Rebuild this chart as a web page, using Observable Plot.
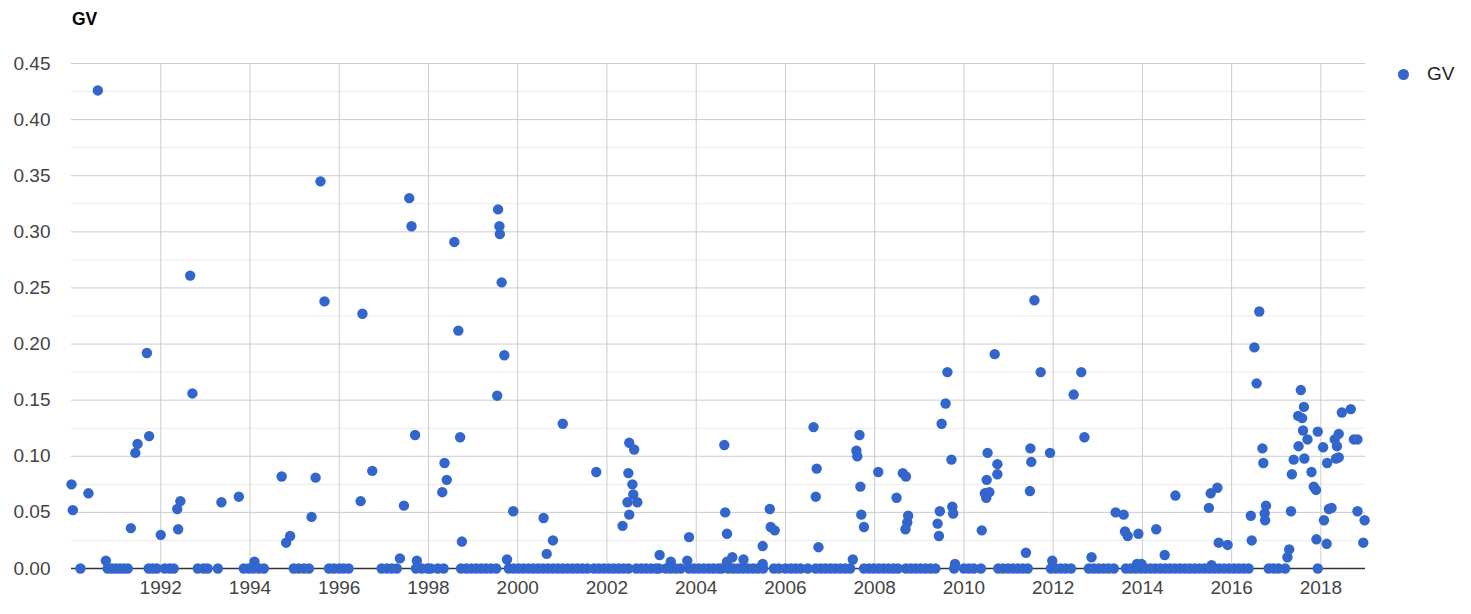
<!DOCTYPE html>
<html>
<head>
<meta charset="utf-8">
<script src="https://cdn.jsdelivr.net/npm/d3@7"></script>
<script src="https://cdn.jsdelivr.net/npm/@observablehq/plot@0.6"></script>
<style>
  html, body { margin: 0; padding: 0; background: #fff; }
  body { width: 1471px; height: 614px; position: relative; overflow: hidden; font-family: Arial, "Liberation Sans", sans-serif; }
  #title { position: absolute; left: 72px; top: 11px; font-size: 17.5px; font-weight: bold; color: #000; line-height: 1; }
  #legend { position: absolute; left: 1398px; top: 63px; font-size: 19px; color: #222; display: flex; align-items: center; line-height: 22px; }
  #legend .dot { width: 11px; height: 11px; border-radius: 50%; background: #3366cc; margin-right: 18px; }
  #chart { position: absolute; left: 0; top: 0; }
</style>
</head>
<body>
<div id="chart"></div>
<div id="title">GV</div>
<div id="legend"><span class="dot"></span><span>GV</span></div>
<script>
const seriesName = "GV";
const years = [
  1990.0,1990.03,1990.38,1990.59,1990.77,1991.33,1991.43,1991.48,1991.69,1991.74,
  1992.0,1992.37,1992.39,1992.44,1992.66,1992.71,1993.36,1993.75,1994.1,1994.71,
  1994.81,1994.9,1995.38,1995.47,1995.58,1995.67,1996.48,1996.52,1996.74,1997.36,
  1997.45,1997.57,1997.62,1997.7,1997.74,1998.31,1998.36,1998.41,1998.58,1998.67,
  1998.71,1998.75,1999.54,1999.56,1999.59,1999.6,1999.64,1999.7,1999.76,1999.9,
  2000.58,2000.65,2000.79,2001.01,2001.76,2002.35,2002.46,2002.48,2002.5,2002.5,
  2002.57,2002.59,2002.61,2002.68,2003.18,2003.43,2003.8,2003.84,2004.63,2004.65,
  2004.69,2004.69,2004.81,2005.06,2005.49,2005.49,2005.65,2005.67,2005.76,2006.63,
  2006.7,2006.68,2006.74,2007.51,2007.59,2007.61,2007.66,2007.68,2007.7,2007.76,
  2008.08,2008.49,2008.63,2008.69,2008.7,2008.73,2008.75,2009.41,2009.44,2009.46,
  2009.5,2009.59,2009.63,2009.72,2009.74,2009.76,2009.8,2010.4,2010.47,2010.5,
  2010.51,2010.53,2010.57,2010.69,2010.75,2010.75,2011.39,2011.48,2011.49,2011.51,
  2011.58,2011.72,2011.93,2011.98,2012.46,2012.63,2012.7,2012.86,2013.4,2013.58,
  2013.61,2013.67,2013.88,2013.91,2013.98,2014.31,2014.5,2014.74,2015.49,2015.53,
  2015.55,2015.68,2015.71,2015.91,2016.43,2016.45,2016.51,2016.56,2016.62,2016.69,
  2016.71,2016.74,2016.75,2016.77,2017.25,2017.29,2017.33,2017.35,2017.39,2017.49,
  2017.5,2017.55,2017.58,2017.6,2017.62,2017.63,2017.7,2017.79,2017.84,2017.89,
  2017.9,2017.93,2018.05,2018.07,2018.13,2018.14,2018.18,2018.24,2018.31,2018.34,
  2018.36,2018.4,2018.4,2018.47,2018.67,2018.74,2018.82,2018.82,2018.95,2018.98
];
const gv = [
  0.075,0.052,0.067,0.426,0.007,0.036,0.103,0.111,0.192,0.118,
  0.030,0.053,0.035,0.060,0.261,0.156,0.059,0.064,0.006,0.082,
  0.023,0.029,0.046,0.081,0.345,0.238,0.060,0.227,0.087,0.009,
  0.056,0.330,0.305,0.119,0.007,0.068,0.094,0.079,0.291,0.212,
  0.117,0.024,0.154,0.320,0.305,0.298,0.255,0.190,0.008,0.051,
  0.045,0.013,0.025,0.129,0.086,0.038,0.059,0.085,0.112,0.048,
  0.075,0.066,0.106,0.059,0.012,0.006,0.007,0.028,0.110,0.050,
  0.031,0.006,0.010,0.008,0.020,0.004,0.053,0.037,0.034,0.126,
  0.089,0.064,0.019,0.008,0.105,0.100,0.119,0.073,0.048,0.037,
  0.086,0.063,0.085,0.035,0.082,0.041,0.047,0.040,0.029,0.051,
  0.129,0.147,0.175,0.097,0.055,0.049,0.004,0.034,0.067,0.063,
  0.079,0.103,0.068,0.191,0.093,0.084,0.014,0.069,0.107,0.095,
  0.239,0.175,0.103,0.007,0.155,0.175,0.117,0.010,0.050,0.048,
  0.033,0.029,0.004,0.031,0.004,0.035,0.012,0.065,0.054,0.067,
  0.003,0.072,0.023,0.021,0.047,0.025,0.197,0.165,0.229,0.107,
  0.094,0.049,0.043,0.056,0.010,0.017,0.051,0.084,0.097,0.136,
  0.109,0.159,0.134,0.123,0.144,0.098,0.115,0.086,0.073,0.070,
  0.026,0.122,0.108,0.043,0.022,0.094,0.053,0.054,0.115,0.098,
  0.109,0.099,0.120,0.139,0.142,0.115,0.115,0.051,0.023,0.043
];
const zeroYears = [
  1990.2,1990.81,1990.9,1990.99,1991.08,1991.17,1991.26,1991.73,1991.82,1991.91,1992.09,1992.2,1992.29,1992.83,1992.96,1993.05,1993.28,
  1993.86,1993.97,1994.08,1994.2,1994.31,1994.98,1995.09,1995.21,1995.32,1995.77,1995.88,1996.0,1996.1,1996.21,1996.95,1997.07,1997.18,1997.29,
  1997.72,1997.85,1997.98,1998.05,1998.21,1998.34,1998.73,1998.85,1998.96,1999.07,1999.18,1999.29,1999.4,1999.52,1999.8,1999.91,2000.02,2000.13,
  2000.24,2000.35,2000.46,2000.57,2000.68,2000.79,2000.9,2001.01,2001.12,2001.23,2001.34,2001.45,2001.56,
  2001.71,2001.82,2001.93,2002.04,2002.15,2002.26,2002.37,2002.48,2002.66,2002.77,2002.88,2002.99,2003.1,2003.16,2003.32,2003.43,2003.54,2003.65,
  2003.84,2003.95,2004.06,2004.17,2004.28,2004.39,2004.5,2004.57,2004.72,2004.83,2004.94,2005.05,
  2005.16,2005.27,2005.38,2005.5,2005.74,2005.85,2006.0,2006.12,2006.23,2006.34,2006.5,2006.68,2006.79,2006.9,2007.01,2007.12,2007.23,2007.34,2007.45,
  2007.76,2007.87,2007.98,2008.09,2008.2,2008.31,2008.42,2008.52,2008.7,2008.81,2008.92,2009.03,2009.14,2009.25,2009.36,
  2009.78,2010.0,2010.11,2010.22,2010.38,2010.77,2010.88,2010.99,2011.1,2011.21,2011.32,2011.43,2011.95,2012.06,2012.17,2012.28,2012.4,
  2012.8,2012.91,2013.02,2013.13,2013.24,2013.36,
  2013.63,2013.74,2013.85,2013.96,2014.07,2014.18,2014.29,2014.4,2014.51,2014.62,2014.73,2014.84,2014.95,2015.06,2015.17,2015.28,2015.39,
  2015.5,2015.61,2015.72,2015.83,2015.94,2016.05,2016.16,2016.27,2016.38,
  2016.83,2016.94,2017.05,2017.2,2017.93
];
const yTicks = [0,0.05,0.10,0.15,0.20,0.25,0.30,0.35,0.40,0.45];
const yMinor = [0.025,0.075,0.125,0.175,0.225,0.275,0.325,0.375,0.425];
const xTicks = [1992,1994,1996,1998,2000,2002,2004,2006,2008,2010,2012,2014,2016,2018];

const data = years.map((y, i) => ({year: y, value: gv[i]}))
  .concat(zeroYears.map(y => ({year: y, value: 0})));

const chart = Plot.plot({
  width: 1471,
  height: 614,
  marginLeft: 71,
  marginRight: 106,
  marginTop: 63,
  marginBottom: 46,
  style: {fontFamily: "Arial, 'Liberation Sans', sans-serif", fontSize: "19px", color: "#444", background: "#fff"},
  x: {domain: [1990, 2019], label: null},
  y: {domain: [0, 0.45], label: null},
  marks: [
    Plot.ruleY(yMinor, {stroke: "#ebebeb", strokeWidth: 1}),
    Plot.ruleY(yTicks, {stroke: "#cccccc", strokeWidth: 1}),
    Plot.ruleX(xTicks, {stroke: "#cccccc", strokeWidth: 1}),
    Plot.axisY({ticks: yTicks, tickFormat: d3.format(".2f"), tickSize: 0, tickPadding: 21, fontSize: 19, fill: "#444", label: null}),
    Plot.axisX({ticks: xTicks, tickFormat: d3.format("d"), tickSize: 0, tickPadding: 12, fontSize: 19, fill: "#444", label: null}),
    Plot.ruleY([0], {stroke: "#333", strokeWidth: 1.3}),
    Plot.dot(data, {x: "year", y: "value", r: 5.2, fill: "#3366cc", stroke: "none"})
  ]
});
document.getElementById("chart").appendChild(chart);
</script>
</body>
</html>
